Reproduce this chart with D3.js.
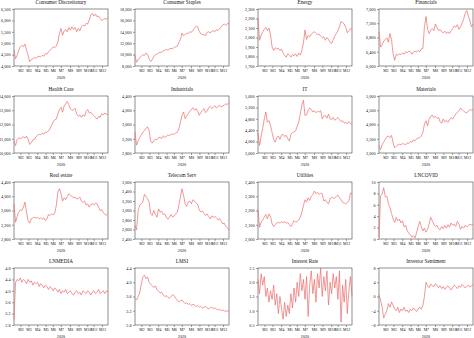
<!DOCTYPE html>
<html>
<head>
<meta charset="utf-8">
<script src="https://cdn.jsdelivr.net/npm/d3@7/dist/d3.min.js"></script>
<style>
  html, body { margin: 0; padding: 0; background: #fff; }
  svg { display: block; }
  text { font-family: "Liberation Serif", "DejaVu Serif", serif; fill: #111; }
</style>
</head>
<body>
<svg id="chart" width="474" height="338"></svg>
<script>
// Trading calendar for 2020: index of the first session of each month (Feb..Dec)
const monthLabels = ["M2", "M3", "M4", "M5", "M6", "M7", "M8", "M9", "M10", "M11", "M12"];
const monthStarts = [16, 36, 58, 79, 97, 117, 140, 161, 183, 199, 220];
const sessions = 236;
const yearLabel = "2020";

const titles = ["Consumer Discretionary", "Consumer Staples", "Energy", "Financials",
  "Health Care", "Industrials", "IT", "Materials",
  "Real estate", "Telecom  Serv", "Utilities", "LNCOVID",
  "LNMEDIA", "LMSI", "Interest Rate", "Investor Sentiment"];

// Observations sampled evenly across the sessions
const consumerDisc = [4690,4320,4470,4690,4840,4910,4840,4960,4690,4470,4180,4280,4310,4370,4340,4400,4430,4400,4470,4430,4540,4520,4620,4690,4760,4840,4810,4870,5060,5430,5650,5350,5540,5600,5500,5690,5570,5720,5600,5690,5500,5650,5540,5720,5790,5750,5870,5840,6010,6240,6310,6190,6280,6160,6190,6090,5990,6040,6090,6040,6130];
const consumerDiscTicks = [4000, 4500, 5000, 5500, 6000, 6500];

const consumerStaples = [9900,8670,9090,9450,9690,9990,9870,10290,10050,9270,8790,9090,9690,9990,10050,10290,10410,10350,10650,10770,10900,10770,11010,11080,11010,11250,11380,11500,12100,12700,13780,13300,13540,13780,13660,14020,13900,14260,14620,14990,14870,14090,13660,13540,13480,13360,13900,14020,13780,14090,14200,14020,14380,14260,14500,14870,15230,15350,15110,15470,15350];
const consumerStaplesTicks = [8000, 10000, 12000, 14000, 16000, 18000];

const energy = [2204,1971,2025,2061,2086,2107,2071,2100,2025,1900,1864,1893,1879,1886,1864,1879,1836,1811,1793,1829,1814,1793,1821,1807,1829,1800,1836,1814,1864,1943,2079,1979,2021,2007,2036,2050,2061,2043,2029,2036,2014,2000,2007,1971,2000,1979,1950,1936,1979,2014,2043,2071,2114,2168,2157,2143,2107,2050,2071,2093,2086];
const energyTicks = [1700, 1800, 1900, 2000, 2100, 2200, 2300];

const financials = [6960,6530,6600,6700,6740,6790,6670,6910,6740,6340,6160,6330,6300,6340,6320,6370,6330,6400,6370,6420,6400,6330,6390,6420,6390,6440,6400,6480,6490,7100,7390,7030,6910,7010,7050,6990,7180,7090,6990,7030,6960,6930,6980,6910,6960,6910,6990,7050,7120,7090,7160,7030,7100,7200,7310,7480,7560,7410,7270,7100,7180];
const financialsTicks = [6000, 6400, 6800, 7200, 7600];

const healthCare = [10830,10525,10950,11070,11000,11070,11140,11050,11190,10950,10600,10720,10910,10950,11140,11240,11310,11290,11380,11310,11480,11430,11550,11710,11950,12190,12330,12380,12740,13050,13210,12860,13290,13450,13620,13380,13100,12980,13050,13140,12740,12570,12670,12500,12670,12570,12910,13050,12810,12860,12710,12620,12500,12380,12570,12500,12760,12670,12810,12710,12740];
const healthCareTicks = [10000, 11000, 12000, 13000, 14000];

const industrials = [3381,3020,3143,3239,3305,3381,3429,3496,3534,3429,3143,3077,3143,3191,3172,3229,3239,3210,3286,3239,3267,3305,3286,3324,3334,3324,3362,3381,3477,3667,3857,3953,3762,3838,3905,3972,4029,4067,4000,4048,3972,3857,3934,4000,4048,3934,3972,4067,4105,4048,4086,4124,4067,4105,4143,4086,4124,4143,4181,4162,4219];
const industrialsTicks = [2800, 3200, 3600, 4000, 4400];

const infoTech = [4318,3863,4198,4462,4797,5037,4678,4737,4558,4318,4079,3983,4138,4198,4079,4222,4258,4174,4222,4102,4019,4258,4318,4342,4378,4534,4678,4977,5277,5456,4917,4941,5097,5181,5133,5037,5085,5013,5061,5037,5085,4797,4893,4917,4821,4965,4797,4773,4845,4749,4797,4845,4773,4702,4737,4654,4678,4618,4702,4654,4582];
const infoTechTicks = [3600, 4000, 4400, 4800, 5200, 5600];

const materials = [3263,3120,3298,3382,3477,3572,3596,3536,3620,3358,3179,3239,3286,3310,3286,3334,3310,3286,3358,3334,3405,3382,3453,3429,3501,3524,3536,3596,3715,4012,4131,3953,4191,4286,4334,4238,4286,4215,4250,4096,4048,4191,4096,4143,4072,4167,4238,4191,4286,4369,4429,4476,4572,4524,4476,4429,4405,4476,4524,4500,4524];
const materialsTicks = [3000, 3500, 4000, 4500, 5000];

const realEstate = [3788,3271,3431,3553,3619,3600,3694,3835,3553,3318,3243,3365,3393,3412,3384,3412,3365,3393,3356,3393,3318,3365,3487,3459,3506,3478,3525,3741,4118,4212,4071,3864,3958,3901,3995,4071,4033,3995,3958,3977,3920,3939,3977,3864,3826,3864,3751,3788,3694,3770,3788,3751,3807,3788,3694,3600,3619,3543,3487,3468,3506];
const realEstateTicks = [2800, 3200, 3600, 4000, 4400];

const telecom = [2682,2590,3000,3106,3141,3176,3339,3296,3247,3176,2929,2894,3000,2915,2859,3035,2965,2986,2915,2929,2859,2816,2859,2915,2859,2887,2929,2965,3106,3282,3459,3318,3141,3085,3176,3198,3141,3226,3198,3155,3127,3014,2965,2986,2943,2894,2929,2873,2823,2887,2859,2873,2845,2802,2830,2774,2718,2732,2661,2633,2590];
const telecomTicks = [2400, 2600, 2800, 3000, 3200, 3400, 3600];

const utilities = [2205,2082,2118,2134,2153,2172,2141,2176,2158,2106,2087,2101,2111,2118,2111,2122,2115,2120,2111,2115,2101,2087,2106,2129,2118,2125,2134,2153,2188,2235,2275,2259,2289,2271,2299,2313,2336,2318,2327,2313,2322,2318,2266,2275,2256,2247,2282,2294,2285,2289,2299,2308,2289,2275,2256,2252,2247,2256,2266,2322,2318];
const utilitiesTicks = [2000, 2100, 2200, 2300, 2400];

const lnCovid = [0.3,7.6,7.9,9.0,7.4,7.5,6.2,5.5,4.5,3.5,2.9,3.8,3.2,3.5,2.8,3.2,2.1,2.4,1.5,1.0,0.8,0.3,0.6,0.2,1.1,2.2,3.1,2.2,1.4,1.9,1.2,1.7,2.6,3.8,3.2,2.6,2.2,2.4,1.8,1.6,2.2,1.8,2.4,1.9,2.5,2.1,2.8,2.4,2.6,2.2,3.1,2.6,1.7,2.2,1.9,2.4,2.1,2.4,2.6,2.5,2.6];
const lnCovidTicks = [0, 2, 4, 6, 8, 10];

const lnMedia = [3.0,4.3,4.4,4.35,4.45,4.3,4.4,4.35,4.25,4.4,4.3,4.35,4.2,4.3,4.25,4.3,4.15,4.25,4.2,4.1,4.2,4.15,4.05,4.15,4.1,4.0,4.1,4.05,3.95,4.05,3.9,4.0,3.95,4.05,3.9,3.95,4.0,3.9,3.85,3.95,4.0,3.9,3.95,3.85,4.0,3.95,3.9,4.0,3.95,3.85,3.95,4.0,3.9,3.95,4.05,3.9,3.95,4.0,3.9,4.0,3.95];
const lnMediaTicks = [2.8, 3.2, 3.6, 4.0, 4.4, 4.8];

const lmsi = [3.55,3.5,3.6,3.7,3.95,4.15,4.2,4.1,4.15,4.0,3.95,3.9,3.85,3.9,3.8,3.75,3.7,3.72,3.65,3.6,3.62,3.58,3.55,3.6,3.65,3.62,3.55,3.5,3.45,3.48,3.5,3.45,3.4,3.42,3.38,3.4,3.35,3.38,3.36,3.32,3.35,3.3,3.32,3.28,3.3,3.32,3.28,3.25,3.28,3.3,3.26,3.28,3.25,3.22,3.25,3.2,3.22,3.2,3.18,3.2,3.18];
const lmsiTicks = [2.8, 3.2, 3.6, 4.0, 4.4];

const interestRate = [2.1,1.6,2.3,1.9,2.2,1.5,1.8,1.3,1.7,1.4,1.9,1.2,1.6,0.9,1.5,1.1,0.7,1.3,0.8,1.2,0.9,1.6,1.1,1.8,1.3,2.0,1.5,2.3,1.7,2.1,1.4,2.2,0.8,1.9,2.4,1.6,2.1,1.3,2.3,1.8,2.5,1.5,2.2,1.7,2.4,1.2,2.0,1.6,2.3,1.8,2.2,1.4,2.4,0.6,1.9,1.3,2.1,0.9,1.7,2.2,1.5];
const interestRateTicks = [0.5, 1.0, 1.5, 2.0, 2.5];

const sentiment = [0.5,-1,-3,-6,-5,-4,-2,-3,-1.5,-2.5,-3.5,-4,-3,-4.5,-3.5,-4,-3,-4.2,-3.8,-4.5,-3.6,-4,-3.2,-3.8,-4.2,-3.5,-3,-3.6,-2.5,0,4,3,2.5,3.5,3,2.8,3.6,3.2,2.5,3,2.2,2.8,2,2.6,3,2.4,1.8,2.5,3.2,2.8,2.2,3,2.6,3.4,3,2.4,2.8,3.2,2.6,3,3.4];
const sentimentTicks = [-8, -4, 0, 4, 8];

const seriesList = [consumerDisc, consumerStaples, energy, financials,
  healthCare, industrials, infoTech, materials,
  realEstate, telecom, utilities, lnCovid,
  lnMedia, lmsi, interestRate, sentiment];
const tickList = [consumerDiscTicks, consumerStaplesTicks, energyTicks, financialsTicks,
  healthCareTicks, industrialsTicks, infoTechTicks, materialsTicks,
  realEstateTicks, telecomTicks, utilitiesTicks, lnCovidTicks,
  lnMediaTicks, lmsiTicks, interestRateTicks, sentimentTicks];

// Panel grid geometry
const colLeft = [14, 135, 258, 379];
const plotW = 94;
const rowTop = [9, 96, 182, 268];
const plotH = 57;
const lineColor = "#ec6a6a";

const svg = d3.select("#chart");

function fmtFor(ticks) {
  const maxAbs = d3.max(ticks, t => Math.abs(t));
  if (maxAbs >= 1000) return d3.format(",");
  if (ticks.every(t => Number.isInteger(t))) return d3.format("d");
  return d3.format(".1f");
}

seriesList.forEach((values, idx) => {
  const r = Math.floor(idx / 4), c = idx % 4;
  const ticks = tickList[idx];
  const g = svg.append("g").attr("transform", `translate(${colLeft[c]},${rowTop[r]})`);

  const x = d3.scaleLinear().domain([0, sessions - 1]).range([0, plotW]);
  const y = d3.scaleLinear().domain(d3.extent(ticks)).range([plotH, 0]);
  const step = (sessions - 1) / (values.length - 1);

  // frame
  g.append("rect").attr("width", plotW).attr("height", plotH)
    .attr("fill", "none").attr("stroke", "#444").attr("stroke-width", 0.6);

  // y axis
  const ya = g.append("g").call(d3.axisLeft(y).tickValues(ticks).tickFormat(fmtFor(ticks)).tickSize(2).tickPadding(1.5));
  ya.select(".domain").remove();
  ya.selectAll("line").attr("stroke", "#444").attr("stroke-width", 0.5);
  ya.selectAll("text").style("font-size", "4.2px").attr("fill", "#222");

  // x axis with month marks
  const xa = g.append("g").attr("transform", `translate(0,${plotH})`)
    .call(d3.axisBottom(x).tickValues(monthStarts).tickFormat((d, i) => monthLabels[i]).tickSize(2).tickPadding(1.5));
  xa.select(".domain").remove();
  xa.selectAll("line").attr("stroke", "#444").attr("stroke-width", 0.5);
  xa.selectAll("text").style("font-size", "3.8px").attr("fill", "#222");

  g.append("text").attr("x", plotW / 2).attr("y", plotH + 13)
    .attr("text-anchor", "middle").style("font-size", "4.2px").text(yearLabel);

  g.append("text").attr("x", plotW / 2).attr("y", -5)
    .attr("text-anchor", "middle").style("font-size", "5.2px").text(titles[idx]);

  const line = d3.line().x((d, i) => x(i * step)).y(d => y(d));
  g.append("path").datum(values).attr("d", line)
    .attr("fill", "none").attr("stroke", lineColor).attr("stroke-width", 0.7)
    .attr("stroke-linejoin", "round");
});
</script>
</body>
</html>
